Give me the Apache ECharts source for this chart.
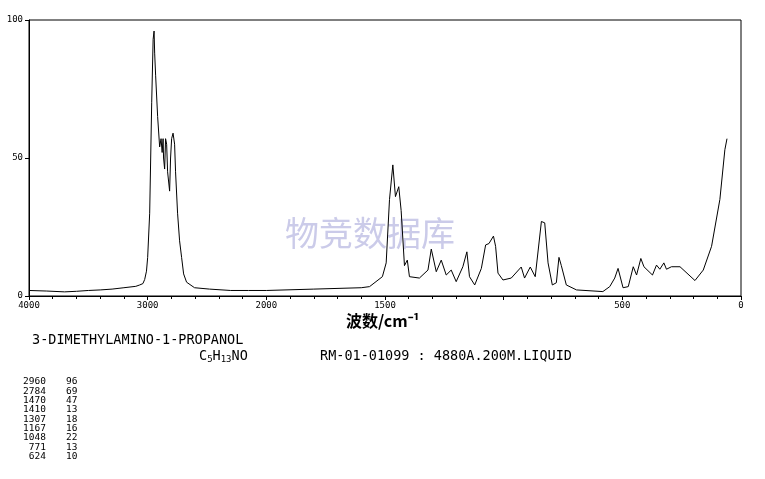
<!DOCTYPE html>
<html><head><meta charset="utf-8">
<script src="https://cdn.jsdelivr.net/npm/echarts@6/dist/echarts.min.js"></script>
<style>body{margin:0}#c{width:765px;height:479px}</style></head>
<body><div id="c"></div>
<script>
const wavenumbers = [4000,3850,3700,3600,3500,3400,3300,3200,3100,3067,3040,3025,3010,3000,2983,2966,2954,2946,2941,2933,2916,2899,2887,2878,2870,2866,2857,2849,2840,2832,2815,2807,2798,2786,2773,2765,2748,2731,2714,2697,2672,2605,2479,2300,2150,2000,1800,1600,1565,1511,1495,1481,1467,1456,1442,1432,1418,1406,1397,1355,1319,1305,1284,1263,1242,1221,1200,1172,1155,1144,1122,1094,1076,1062,1043,1034,1024,1003,968,926,912,888,867,841,827,813,795,778,767,757,736,693,582,553,532,518,497,475,454,440,422,409,373,356,342,325,314,293,257,194,159,124,89,68,59];
const intensities = [2,1.8,1.5,1.7,2,2.2,2.5,3,3.5,4,4.5,6,9,14,30,70,93,96,88,80,65,54,57,52,57,50,46,57,55,45,38,50,57,59,55,45,30,20,14,8,5,3,2.5,2,2,2,2.5,3,3.4,7,12,35,47.5,36,39.6,31,11,13,7,6.5,9.4,17,8.8,13,7.6,9.4,5.2,10.6,16,7,4,10,18.5,19,21.7,18,8.3,5.8,6.5,10.5,6.5,10.5,7,27,26.5,12,4,4.8,14,11,4,2.2,1.6,3.4,6.5,10,3,3.4,10.6,7.6,13.6,10.6,7.6,11.2,9.7,12,9.7,10.6,10.6,5.6,9.4,18,35,53,57];
const xTickLabels = {0:'4000',1:'3000',2:'2000',3:'1500',4:'',5:'500',6:'0'};
const yTicks = [0,50,100];
const peakTable = [[2960,96],[2784,69],[1470,47],[1410,13],[1307,18],[1167,16],[1048,22],[771,13],[624,10]];
const compound = '3-DIMETHYLAMINO-1-PROPANOL';
const sampleInfo = 'RM-01-01099 : 4880A.200M.LIQUID';

function pos(w){ return w>=2000 ? (4000-w)/1000 : 2+(2000-w)/500; }
const data = wavenumbers.map((w,i)=>[pos(w), intensities[i]]);
const mono = '"DejaVu Sans Mono", monospace';
const graphics = [
  {type:'text',left:285,top:216,style:{text:'物竞数据库',fill:'rgba(160,160,215,0.55)',font:'34px "Noto Sans CJK SC"'},z:-1},
  {type:'text',left:346,top:313,style:{text:'波数/cm⁻¹',fill:'#000',font:'bold 16px "Noto Sans CJK SC"'}},
  {type:'text',left:32,top:333,style:{text:compound,fill:'#000',font:'13.5px '+mono}},
  {type:'text',left:199,top:349,style:{text:'C{s|5}H{s|13}NO',fill:'#000',font:'13.5px '+mono,rich:{s:{fontSize:9,fontFamily:'DejaVu Sans Mono',padding:[7,0,0,0]}}}},
  {type:'text',left:320,top:349,style:{text:sampleInfo,fill:'#000',font:'13.5px '+mono}},
];
peakTable.forEach((p,i)=>{
  graphics.push({type:'text',right:765-46,top:377+i*9.3,style:{text:String(p[0]),fill:'#000',font:'9.5px '+mono,align:'right'}});
  graphics.push({type:'text',left:66,top:377+i*9.3,style:{text:String(p[1]),fill:'#000',font:'9.5px '+mono}});
});
const chart = echarts.init(document.getElementById('c'));
chart.setOption({
  animation:false,
  grid:{left:29,right:24,top:20,bottom:183},
  xAxis:{type:'value',min:0,max:6,interval:1,
    axisLine:{onZero:false,lineStyle:{color:'#000',width:1}},
    axisTick:{show:true,length:4,lineStyle:{color:'#000'}},
    minorTick:{show:true,splitNumber:5,length:3,lineStyle:{color:'#000'}},
    splitLine:{show:false},
    axisLabel:{formatter:v=>xTickLabels[v]||'',color:'#000',fontSize:9,fontFamily:'DejaVu Sans Mono',margin:5}},
  yAxis:{type:'value',min:0,max:100,interval:50,
    axisLine:{show:true,lineStyle:{color:'#000'}},
    axisTick:{show:true,length:4,lineStyle:{color:'#000'}},
    minorTick:{show:false},
    splitLine:{show:false},
    axisLabel:{formatter:v=>yTicks.includes(v)?String(v):'',color:'#000',fontSize:9,fontFamily:'DejaVu Sans Mono',margin:6}},
  graphic:graphics.concat([{type:'rect',shape:{x:29,y:20,width:712,height:276},style:{fill:'none',stroke:'#000',lineWidth:1},silent:true}]),
  series:[{type:'line',data:data,symbol:'none',lineStyle:{color:'#000',width:1}}]
});
</script></body></html>
